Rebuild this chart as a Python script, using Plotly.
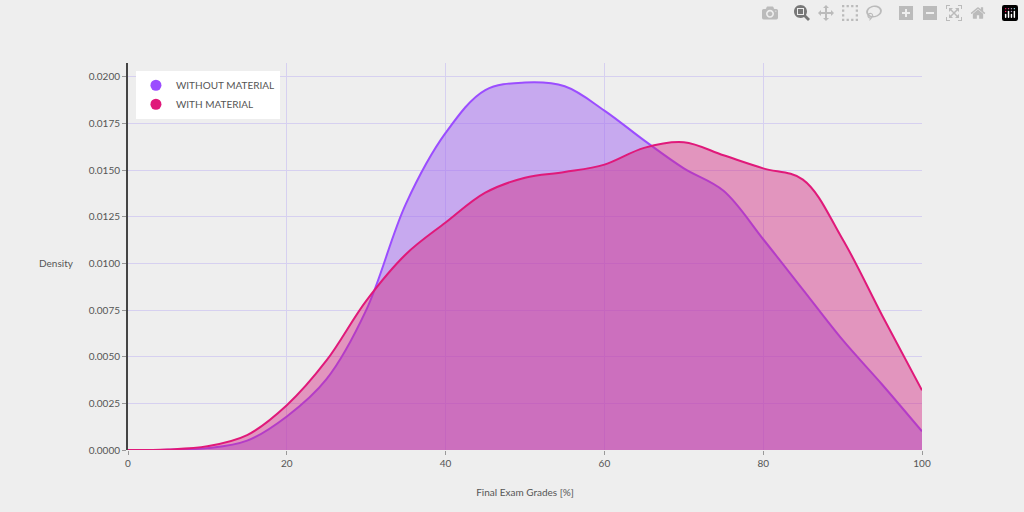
import plotly.graph_objects as go

grades = [0, 5, 10, 15, 20, 25, 30, 35, 40, 45, 50, 55, 60, 65, 70, 75, 80, 85, 90, 95, 100]
without_material = [0, 0.00002, 0.0001, 0.0005, 0.0018, 0.0038, 0.0075, 0.0132, 0.0170, 0.0193, 0.0197,
                    0.0195, 0.0182, 0.0166, 0.0151, 0.0139, 0.0113, 0.0086, 0.0059, 0.0035, 0.001]
with_material = [0, 0.00003, 0.0002, 0.0008, 0.0024, 0.0048, 0.008, 0.0105, 0.0122, 0.0138, 0.0146,
                 0.0149, 0.0153, 0.0162, 0.0165, 0.0158, 0.0151, 0.0145, 0.0113, 0.0072, 0.0032]
names = ["WITHOUT MATERIAL", "WITH MATERIAL"]
colors = ["#9b4dff", "#e0197a"]
fills = ["rgba(160,100,240,0.5)", "rgba(210,40,130,0.45)"]

fig = go.Figure()
for ys, c, f in zip([without_material, with_material], colors, fills):
    fig.add_trace(go.Scatter(x=grades, y=ys, mode="lines", showlegend=False,
                             line=dict(color=c, width=2, shape="spline"),
                             fill="tozeroy", fillcolor=f))
for n, c in zip(names, colors):
    fig.add_trace(go.Scatter(x=[None], y=[None], name=n, mode="markers",
                             marker=dict(color=c, size=11, symbol="circle")))

fig.update_layout(
    width=1024, height=512, paper_bgcolor="#eeeeee", plot_bgcolor="#eeeeee",
    margin=dict(l=128, r=102, t=63, b=62),
    font=dict(family="Lato", size=10, color="#555"),
    legend=dict(x=0.01, y=0.98, bgcolor="white", font=dict(size=10, color="#555")),
    xaxis=dict(range=[0, 100], tickvals=[0, 20, 40, 60, 80, 100], gridcolor="#d6d0f0",
               zeroline=False, showline=False, ticks="outside", ticklen=4, tickcolor="#999",
               title=dict(text="Final Exam Grades [%]", font=dict(size=10, color="#555"), standoff=20)),
    yaxis=dict(range=[0, 0.02075], tickvals=[0, 0.0025, 0.005, 0.0075, 0.01, 0.0125, 0.015, 0.0175, 0.02],
               tickformat=".4f", gridcolor="#d6d0f0", zeroline=False, showline=True,
               linecolor="#444", linewidth=2, ticks="outside", ticklen=4, tickcolor="#999"),
    annotations=[dict(text="Density", x=-0.09, xanchor="center", y=0.0100, xref="paper", yref="y",
                      showarrow=False, font=dict(size=10, color="#555"))],
)
fig.write_html("out.html", post_script="document.body.style.margin='0';")
